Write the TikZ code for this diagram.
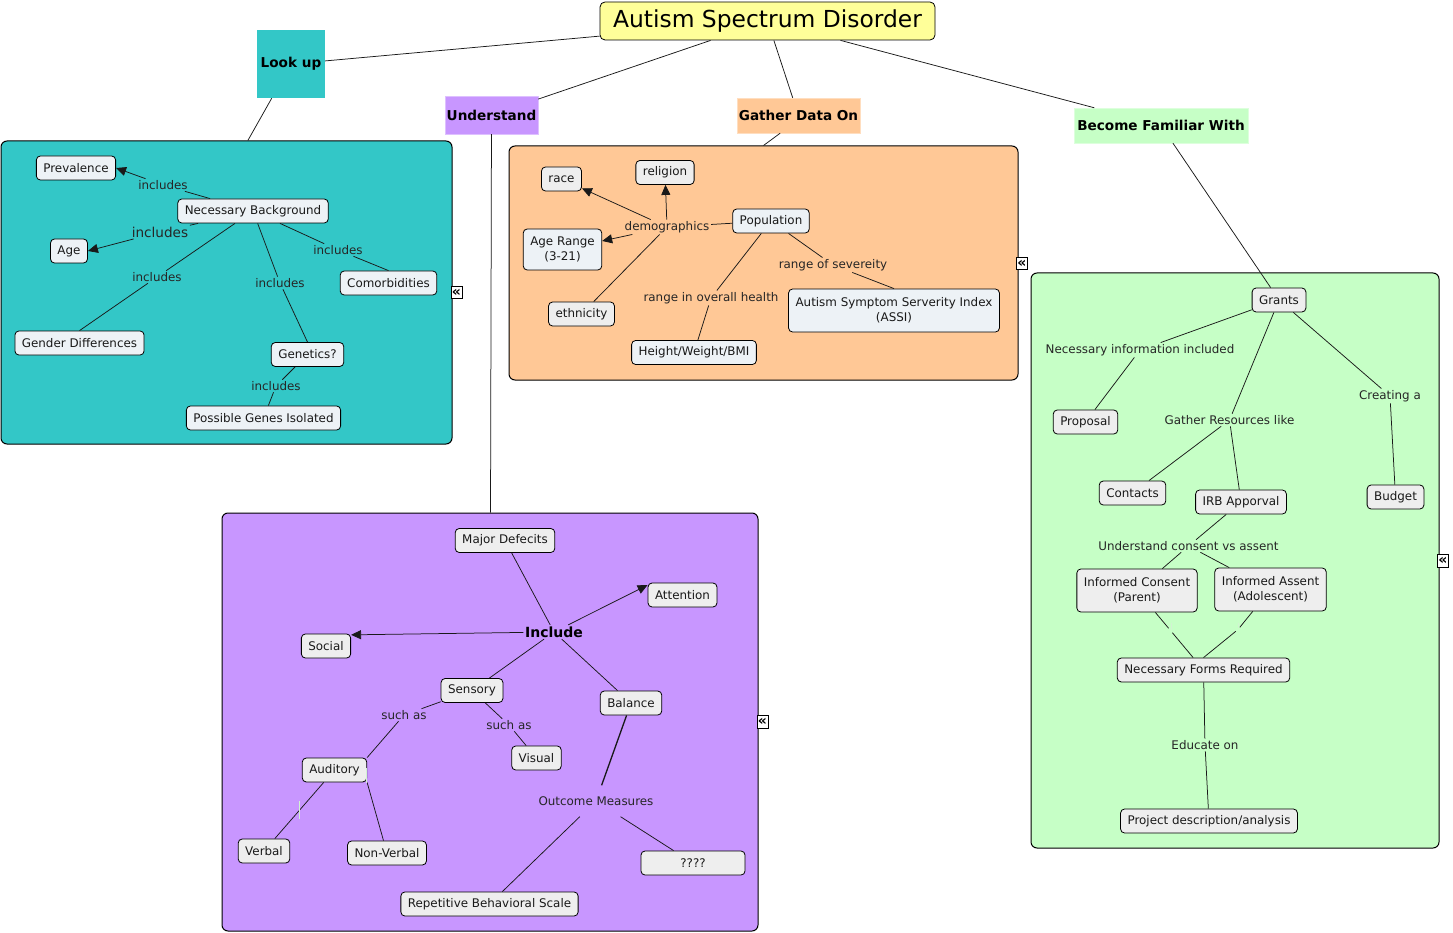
\documentclass[tikz,border=0pt]{standalone}
\usepackage{fontspec}
\setmainfont{DejaVu Sans}
\usetikzlibrary{arrows.meta,shapes.geometric}
\definecolor{tealc}{RGB}{51,199,199}
\definecolor{purc}{RGB}{200,150,255}
\definecolor{orac}{RGB}{255,200,150}
\definecolor{grec}{RGB}{198,255,198}
\definecolor{yelc}{RGB}{255,255,153}
\definecolor{ngray}{RGB}{238,238,238}
\definecolor{nblue}{RGB}{237,242,246}
\definecolor{faintc}{RGB}{210,242,210}
\newcommand{\nfs}{\fontsize{11.9}{14.5}\selectfont}
\newcommand{\hfs}{\fontsize{13.6}{16}\selectfont\bfseries}
\tikzset{
  concept/.style={draw=black, line width=0.8pt, rounded corners=4pt, fill=ngray, inner xsep=7pt, inner ysep=3pt, minimum height=24pt, font=\nfs, align=center, text=black!90},
  bconcept/.style={concept, fill=nblue},
  twoline/.style={minimum height=42pt},
  lbl/.style={inner sep=1.5pt, font=\nfs, text=black!85, align=center},
  link/.style={draw=black!90, line width=0.75pt},
  arr/.style={link, -{Triangle[length=10pt,width=9pt]}},
  container/.style={draw=black, line width=1pt, rounded corners=6pt, inner sep=0},
  header/.style={font=\hfs, inner sep=0, text=black},
  expicon/.style={draw=black, fill=white, line width=0.6pt, minimum width=11pt, minimum height=12.5pt, inner sep=0, font=\fontsize{14}{14}\selectfont\bfseries},
  gapn/.style={inner sep=0, minimum width=4pt, minimum height=4pt},
  faint/.style={draw=faintc, line width=1pt}
}
\begin{document}
\begin{tikzpicture}[x=1pt,y=-1pt]
\useasboundingbox (0,0) rectangle (1453,933);

% containers
\node[container, fill=tealc, minimum width=451pt, minimum height=303pt] (tealbox) at (226.5,292.5) {};
\node[container, fill=orac, minimum width=509pt, minimum height=234pt] (orangebox) at (763.5,263) {};
\node[container, fill=grec, minimum width=408pt, minimum height=575pt] (greenbox) at (1235,560.5) {};
\node[container, fill=purc, minimum width=536pt, minimum height=418pt] (purplebox) at (490,722) {};

\node[expicon] (ic1) at (456.5,292.5) {«};
\node[expicon] (ic2) at (1022,263.5) {«};
\node[expicon] (ic3) at (1443,561) {«};
\node[expicon] (ic4) at (762.5,722) {«};

% top level
\node[draw=black, line width=0.8pt, fill=yelc, rounded corners=5pt, minimum width=335pt, minimum height=38pt, inner sep=0, font=\fontsize{23.4}{26}\selectfont] (title) at (767.5,21) {Autism Spectrum Disorder};
\node[header, fill=tealc, minimum width=68pt, minimum height=68pt] (lookup) at (291,64) {Look up};
\node[header, fill=purc, draw=purc!60!white, minimum width=93pt, minimum height=38pt] (understand) at (491.5,115) {Understand};
\node[header, fill=orac, draw=orac!60!white, minimum width=123pt, minimum height=35pt] (gather) at (798.5,115.5) {Gather Data On};
\node[header, fill=grec, draw=grec!60!white, minimum width=174pt, minimum height=35pt] (become) at (1161,125.5) {Become Familiar With};

% teal box nodes
\node[bconcept] (prev) at (76,168) {Prevalence};
\node[bconcept] (nb) at (253,211) {Necessary Background};
\node[bconcept] (age) at (69,251) {Age};
\node[bconcept] (comor) at (388.5,283) {Comorbidities};
\node[bconcept] (gender) at (79.5,343) {Gender Differences};
\node[bconcept] (genet) at (307.5,354.5) {Genetics?};
\node[bconcept] (pgi) at (263.5,418) {Possible Genes Isolated};
\node[lbl] (lprev) at (163,185) {includes};
\node[lbl, font=\fontsize{13.6}{15}\selectfont] (lage) at (160,232) {includes};
\node[lbl] (lgen) at (157,277) {includes};
\node[lbl] (lgenet) at (280,283) {includes};
\node[lbl] (lcomor) at (338,250) {includes};
\node[lbl] (lpgi) at (276,386) {includes};

% orange box nodes
\node[concept] (race) at (561.5,179) {race};
\node[concept] (relig) at (665,172.5) {religion};
\node[bconcept, twoline, minimum height=41pt] (agerange) at (562.5,249.5) {Age Range\\(3-21)};
\node[bconcept] (pop) at (771,221) {Population};
\node[concept] (eth) at (581.5,314) {ethnicity};
\node[bconcept, twoline, minimum height=43pt] (assi) at (894,310.5) {Autism Symptom Serverity Index\\(ASSI)};
\node[bconcept] (hwb) at (694,352.5) {Height/Weight/BMI};
\node[lbl] (demo) at (667,227) {demographics};
\node[lbl] (ros) at (833,265) {range of severeity};
\node[lbl] (rioh) at (711,298) {range in overall health};

% green box nodes
\node[concept] (grants) at (1279,300) {Grants};
\node[lbl] (nii) at (1140,350) {Necessary information included};
\node[concept] (proposal) at (1085.5,422) {Proposal};
\node[lbl] (grl) at (1229.5,420) {Gather Resources like};
\node[lbl] (crea) at (1390,396) {Creating a};
\node[concept] (contacts) at (1132.5,493) {Contacts};
\node[concept] (irb) at (1241,502) {IRB Apporval};
\node[concept] (budget) at (1395.5,497) {Budget};
\node[lbl] (uca) at (1188.5,546) {Understand consent vs assent};
\node[concept, twoline, minimum height=43pt] (consent) at (1137,590.5) {Informed Consent\\(Parent)};
\node[concept, twoline, minimum height=43pt] (assent) at (1270.5,589.5) {Informed Assent\\(Adolescent)};
\node[concept] (nfr) at (1203.5,670) {Necessary Forms Required};
\node[lbl] (edu) at (1205,745) {Educate on};
\node[concept] (proj) at (1209,821) {Project description/analysis};
\node[gapn] (g1) at (1170.5,630.5) {};
\node[gapn] (g2) at (1238,629.5) {};

% purple box nodes
\node[concept] (md) at (505,540.5) {Major Defecits};
\node[concept] (att) at (682.5,595) {Attention};
\node[lbl, font=\fontsize{14}{16}\selectfont\bfseries, text=black] (inc) at (554,632) {Include};
\node[concept] (social) at (326,646) {Social};
\node[concept] (sens) at (472,690.5) {Sensory};
\node[concept] (bal) at (631,703) {Balance};
\node[lbl] (sal) at (404,715) {such as};
\node[lbl] (sar) at (509,725) {such as};
\node[concept] (aud) at (334.5,770) {Auditory};
\node[concept] (vis) at (536.5,758) {Visual};
\node[lbl, inner ysep=11pt] (om) at (596,801) {Outcome Measures};
\node[concept] (verbal) at (264,851) {Verbal};
\node[concept] (nonverbal) at (387,853) {Non-Verbal};
\node[concept, minimum width=104pt] (q) at (693,863) {????};
\node[concept] (rbs) at (489.5,904) {Repetitive Behavioral Scale};

% top-level links
\draw[link] (title) -- (lookup);
\draw[link] (title) -- (understand);
\draw[link] (title) -- (gather);
\draw[link] (title) -- (become);
\draw[link] (lookup) -- (tealbox.82.3);
\draw[link] (understand) -- (purplebox);
\draw[link] (gather.-136.6) -- (orangebox.north);
\draw[link] (become) -- (grants);

% teal links
\draw[link] (nb) -- (lprev); \draw[arr] (lprev) -- (prev.east);
\draw[link] (nb) -- (lage); \draw[arr] (lage) -- (age.east);
\draw[link] (nb) -- (lgen); \draw[link] (lgen) -- (gender.north);
\draw[link] (nb) -- (lgenet); \draw[link] (lgenet) -- (genet.north);
\draw[link] (nb) -- (lcomor); \draw[link] (lcomor) -- (comor.north);
\draw[link] (genet) -- (lpgi); \draw[link] (lpgi) -- (pgi);

% orange links
\draw[link] (pop) -- (demo);
\draw[arr] (demo) -- (race);
\draw[arr] (demo) -- (relig);
\draw[arr] (demo) -- (agerange);
\draw[link] (demo) -- (eth);
\draw[link] (pop) -- (rioh); \draw[link] (rioh) -- (hwb);
\draw[link] (pop) -- (ros); \draw[link] (ros) -- (assi.north);

% green links
\draw[link] (grants) -- (nii); \draw[link] (nii) -- (proposal);
\draw[link] (grants) -- (grl); \draw[link] (grl) -- (contacts); \draw[link] (grl) -- (irb);
\draw[link] (grants) -- (crea); \draw[link] (crea) -- (budget);
\draw[link] (irb) -- (uca); \draw[link] (uca) -- (consent); \draw[link] (uca) -- (assent);
\draw[link] (consent) -- (g1); \draw[link] (g1) -- (nfr);
\draw[link] (assent) -- (g2); \draw[link] (g2) -- (nfr.north);
\draw[link] (nfr) -- (edu); \draw[link] (edu) -- (proj);
\draw[faint] (1171,623) -- (1171,630);
\draw[faint] (1238,623) -- (1238,628);

% purple links
\draw[link] (md) -- (inc);
\draw[arr] (inc) -- (att.164);
\draw[arr] (inc) -- (social.24);
\draw[link] (inc) -- (sens);
\draw[link] (inc) -- (bal);
\draw[link] (sens) -- (sal); \draw[link] (sal) -- (aud.north east);
\draw[link] (sens) -- (sar); \draw[link] (sar) -- (vis);
\draw[link, line width=1.3pt] (bal) -- (om);
\draw[link] (om) -- (rbs); \draw[link] (om) -- (q);
\draw[link] (aud) -- (verbal); \draw[link] (aud.south east) -- (nonverbal);
\draw[faint] (299,801) -- (299,819);
\draw[faint] (366,768) -- (366,783);
\end{tikzpicture}
\end{document}
